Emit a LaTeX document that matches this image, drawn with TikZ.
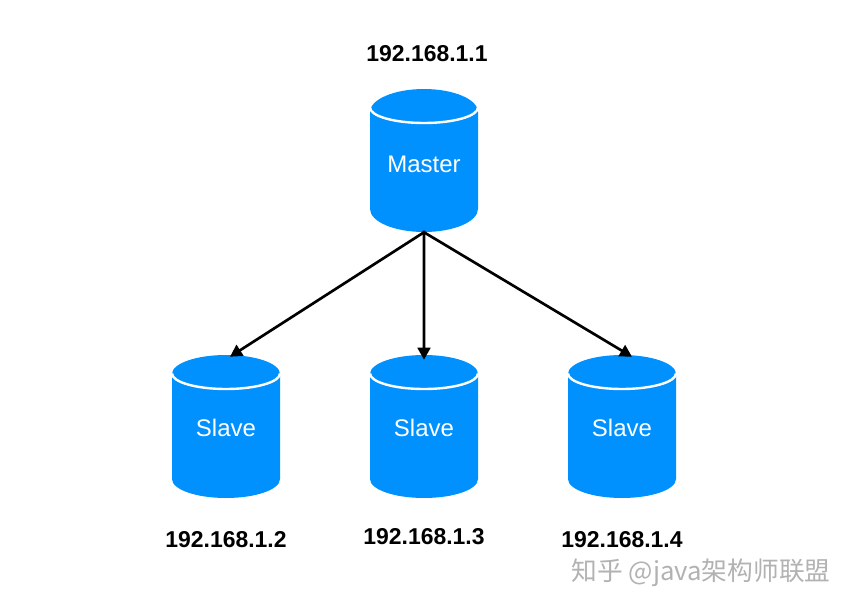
\documentclass[tikz,border=0pt]{standalone}
\usepackage{fontspec}
\setmainfont{Liberation Sans}
\newfontfamily\cjk{Noto Sans CJK SC}
\usetikzlibrary{shapes.geometric,arrows.meta,calc}
\definecolor{dbblue}{HTML}{0091FF}
\tikzset{
    dbnode/.style={cylinder, shape border rotate=90, aspect=0.63, draw=none, fill=dbblue, anchor=shape center,
        minimum width=81pt, minimum height=107.25pt, inner sep=0pt, text=white, font=\fontsize{18}{20}\selectfont},
    iplabel/.style={font=\fontsize{17.2}{20}\selectfont\bfseries, text=black},
    link/.style={line width=2pt, -{Triangle[length=9pt,width=9.5pt]}, shorten <=-1pt},
    rimline/.style={white, line width=1.8pt}
}
\newcommand{\dbtext}[1]{\raisebox{12.5pt}{#1}}
\begin{document}
\begin{tikzpicture}[x=0.75pt,y=-0.75pt]
    \useasboundingbox (0,0) rectangle (851,611);
    \node [dbnode] (master) at (424,160.5) {\dbtext{Master}};
    \node [dbnode] (slavea) at (226,426.5) {\dbtext{Slave}};
    \node [dbnode] (slaveb) at (424,426.5) {\dbtext{Slave}};
    \node [dbnode] (slavec) at (622,426.5) {\dbtext{Slave}};
    % rim of each drum
    \foreach \name in {master,slavea,slaveb,slavec}
        \draw [rimline] ($(\name.shape center)+(-54,-53)$) arc (180:0:54 and 15.5);
    \node [iplabel] (ipmaster) at (427,54) {192.168.1.1};
    \node [iplabel] (ipa) at (226,540) {192.168.1.2};
    \node [iplabel] (ipb) at (424,537) {192.168.1.3};
    \node [iplabel] (ipc) at (622,540) {192.168.1.4};
    \draw [link] (master.south) -- ($(slavea.north)+(4,2)$);
    \draw [link] (master.south) -- ($(slaveb.north)+(0,5)$);
    \draw [link] (master.south) -- ($(slavec.north)+(10,2)$);
    \node [text=black!30, font=\fontsize{19.3}{22}\selectfont, inner sep=0pt] (mark) at (701,573) {\cjk 知乎 @java架构师联盟};
\end{tikzpicture}
\end{document}
